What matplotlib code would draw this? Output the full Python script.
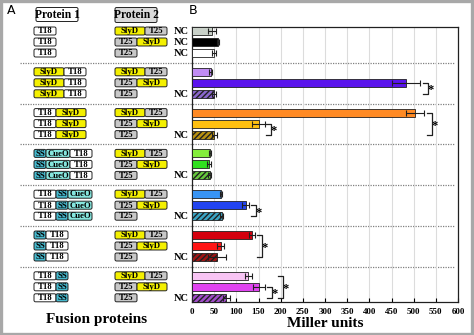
import matplotlib.pyplot as plt
from matplotlib.patches import FancyBboxPatch, Rectangle

plt.rcParams['font.family'] = ['Liberation Serif', 'DejaVu Serif']

# Miller units, 7 groups x 3 rows (last row of each group is the NC)
values = [[45, 59, 50],
          [42, 483, 50],
          [503, 150, 50],
          [40, 38, 40],
          [65, 121, 67],
          [135, 65, 56],
          [127, 151, 77]]
errors = [[9, 3, 4],
          [3, 31, 5],
          [20, 15, 6],
          [2, 4, 3],
          [2, 8, 4],
          [6, 8, 20],
          [8, 13, 8]]
colors = [['#c9d1c9', '#000000', '#ffffff'],
          ['#c08cf4', '#5a14ec', '#8a66cc'],
          ['#ff8a24', '#ffc010', '#b89010'],
          ['#84ee3c', '#30e020', '#66c83c'],
          ['#3894f4', '#2244f0', '#3aa4c4'],
          ['#d4000e', '#ff1414', '#a01414'],
          ['#f8c4f4', '#e044f0', '#a04cc8']]
hatched = [[False, False, False]] + [[False, False, True]] * 6
nc_rows = [[True, True, True]] + [[False, False, True]] * 6

# significance brackets: group, first row, last row, x (Miller units)
sig = [(1, 1, 2, 521), (2, 0, 2, 530), (2, 1, 2, 167), (4, 1, 2, 133),
       (5, 0, 2, 147), (6, 1, 2, 169), (6, 0, 2, 194)]

protein1 = [['T18'], ['SlyD', 'T18'], ['T18', 'SlyD'], ['SS', 'CueO', 'T18'],
            ['T18', 'SS', 'CueO'], ['SS', 'T18'], ['T18', 'SS']]
protein2 = [['SlyD', 'T25'], ['T25', 'SlyD'], ['T25']]
part_color = {'T18': '#ffffff', 'SlyD': '#f4f000', 'T25': '#c8c8c8',
              'SS': '#46b8cc', 'CueO': '#86e6de'}
part_width = {'T18': 22, 'SlyD': 30, 'T25': 22, 'SS': 12, 'CueO': 24}

ticks = list(range(0, 601, 50))

W, H = 474, 335
fig = plt.figure(figsize=(W / 100, H / 100), dpi=100)

# full-figure canvas in pixel coordinates for panel A and decorations
bg = fig.add_axes([0, 0, 1, 1])
bg.set_xlim(0, W)
bg.set_ylim(H, 0)
bg.axis('off')
bg.add_patch(Rectangle((1, 1), W - 2.5, H - 2.5, fill=False, ec='#a8a8a8', lw=2.4))


def row_y(g, r):
    return 31 + g * 40.8 + r * 11


def box(x, y, w, h, fc, txt, fs=6.3):
    bg.add_patch(FancyBboxPatch((x, y - h / 2), w, h, boxstyle='round,pad=0,rounding_size=1.6',
                                fc=fc, ec='#222222', lw=0.7))
    bg.text(x + w / 2, y + 0.3, txt, ha='center', va='center', fontsize=fs, fontweight='bold')


box(36, 14.5, 42, 14, '#ffffff', 'Protein 1', fs=8.3)
box(115, 15, 42, 15, '#dadada', 'Protein 2', fs=8.3)
bg.text(11, 10, 'A', fontsize=9, family='DejaVu Sans', ha='center', va='center')
bg.text(193, 10, 'B', fontsize=9, family='DejaVu Sans', ha='center', va='center')

for g in range(7):
    for r in range(3):
        y = row_y(g, r)
        x = 34
        for p in protein1[g]:
            box(x, y, part_width[p], 8, part_color[p], p)
            x += part_width[p]
        x = 115
        for p in protein2[r]:
            box(x, y, part_width[p], 8, part_color[p], p)
            x += part_width[p]
        if nc_rows[g][r]:
            bg.text(189, y + 0.5, 'NC', ha='right', va='center', fontsize=7.5, fontweight='bold')
    if g > 0:
        ys = row_y(g, 0) - 9
        bg.plot([20, 455], [ys, ys], color='#808080', lw=0.9, ls=(0, (1, 1)))

bg.text(97, 320, 'Fusion proteins', ha='center', va='center', fontsize=11, fontweight='bold')

# panel B bar chart
x0, x1, y0, y1 = 192, 458, 27, 302
ax = fig.add_axes([x0 / W, 1 - y1 / H, (x1 - x0) / W, (y1 - y0) / H])
ax.set_xlim(0, 600)
ax.set_ylim(y1, y0)
ax.set_zorder(2)
ax.patch.set_alpha(0)

for g in range(7):
    for r in range(3):
        y = row_y(g, r)
        ax.barh(y, values[g][r], height=8, color=colors[g][r],
                edgecolor='#202020', lw=0.6,
                hatch='//////' if hatched[g][r] else None, zorder=3)
        ax.errorbar(values[g][r], y, xerr=errors[g][r], fmt='none', ecolor='#202020',
                    elinewidth=0.8, capsize=2, capthick=0.8, zorder=4)

for g, ra, rb, xs in sig:
    ya, yb = row_y(g, ra), row_y(g, rb)
    ax.plot([xs, xs + 11, xs + 11, xs], [ya, ya, yb, yb], color='#202020', lw=0.9, zorder=4)
    ax.text(xs + 17, (ya + yb) / 2 + 2, '*', fontsize=9, fontweight='bold', ha='center', va='center')

ax.set_xticks(ticks)
ax.set_xticklabels([str(t) for t in ticks], fontsize=6.5, fontweight='bold')
ax.set_yticks([])
ax.tick_params(axis='x', direction='in', length=3, width=0.8, pad=4)
ax.grid(axis='x', color='#dcdcdc', lw=0.8, zorder=0)
for s in ax.spines.values():
    s.set_linewidth(0.9)
    s.set_color('#202020')
ax.set_xlabel('Miller units', fontsize=11, fontweight='bold', labelpad=1)

fig.savefig('out.png', dpi=100)
